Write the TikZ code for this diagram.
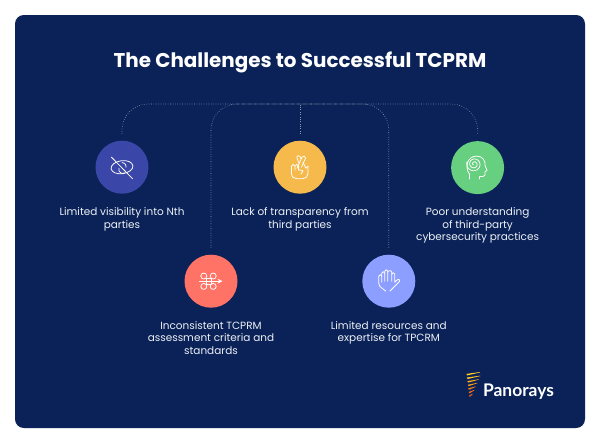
\documentclass[tikz,border=0pt]{standalone}
\usepackage{fontspec}
\setmainfont{Poppins}
\newfontfamily\logofont{Lato}
\usepackage{xcolor}
\definecolor{navy}{HTML}{0A2257}
\definecolor{indigo}{HTML}{3B47A8}
\definecolor{amber}{HTML}{F5BA4B}
\definecolor{leaf}{HTML}{66CF80}
\definecolor{coral}{HTML}{FF7366}
\definecolor{periwinkle}{HTML}{8C9EFF}
\definecolor{linkgray}{HTML}{8E9BB8}
\definecolor{softwhite}{HTML}{EDF0F6}
\tikzset{
  badge/.style={circle,minimum size=1.325cm,inner sep=0pt,outer sep=0.17cm},
  caption/.style={text=softwhite,align=center,font=\fontsize{7.45pt}{8.9pt}\selectfont,inner sep=0pt,anchor=north},
  link/.style={linkgray,line width=0.45pt,dash pattern=on 0.45pt off 1.25pt,rounded corners=0.65cm},
  glyph/.style={white,line width=0.55pt,line cap=round,line join=round,x=0.025cm,y=-0.025cm},
}
\begin{document}
\begin{tikzpicture}
\useasboundingbox (0cm,0cm) rectangle (15cm,-11.075cm);
\fill[white] (0cm,0cm) rectangle (15cm,-11.075cm);
\fill[navy,rounded corners=0.22cm] (0.375cm,-0.375cm) rectangle (14.625cm,-10.7cm);
\node[white,font=\fontsize{14.15pt}{18pt}\selectfont\bfseries,inner sep=0pt] (title) at (7.5cm,-1.56cm) {The Challenges to Successful TCPRM};
\coordinate (rail) at (7.5cm,-2.6cm);
% circles
\node[badge,fill=indigo] (blind) at (3.05cm,-4.18cm) {};
\node[badge,fill=amber] (fingers) at (7.5cm,-4.18cm) {};
\node[badge,fill=leaf] (mind) at (11.94cm,-4.19cm) {};
\node[badge,fill=coral] (command) at (5.275cm,-7.03cm) {};
\node[badge,fill=periwinkle] (palm) at (9.72cm,-7.03cm) {};
% dotted links
\draw[link] (blind.north) |- (rail) -| (mind.north);
\draw[link] (command.north) |- (rail) -| (palm.north);
\draw[link] (fingers.north) -- (rail);
% texts
\node[caption] (blindtext) at (3.05cm,-5.19cm) {Limited visibility into Nth\\parties};
\node[caption] (fingerstext) at (7.5cm,-5.19cm) {Lack of transparency from\\third parties};
\node[caption] (mindtext) at (11.94cm,-5.19cm) {Poor understanding\\of third-party\\cybersecurity practices};
\node[caption] (commandtext) at (5.275cm,-8.03cm) {Inconsistent TCPRM\\assessment criteria and\\standards};
\node[caption] (palmtext) at (9.72cm,-8.03cm) {Limited resources and\\expertise for TPCRM};
% eye
\begin{scope}[shift={(blind.center)},glyph]
\draw[rotate=8] (0,0) ellipse (11 and 6.5);
\draw (-3,1) arc (200:60:4);
\draw (4,0) arc (10:-90:4);
\draw (-10.5,-10) -- (10.5,11.5);
\end{scope}
% crossed fingers
\begin{scope}[shift={(fingers.center)},glyph]
\draw (-3,1) -- (2,-10) .. controls (3,-12.5) and (6,-11) .. (5.5,-9) -- (1.5,0);
\draw (-1,-4) -- (-3,-9) .. controls (-4,-11.5) and (-0.5,-12.5) .. (0.5,-10) -- (1,-8.5);
\draw (3,-5) -- (6,1) -- (8,-1);
\draw (-8.5,2) -- (-8.5,-1) .. controls (-8.5,-3.5) and (-5,-3.5) .. (-5,-1) -- (-5,3);
\draw (-5,-1) .. controls (-5,-3.5) and (-1.5,-3.5) .. (-1.5,-1) -- (-1.5,3);
\draw (-8.5,2) -- (-8.5,6) .. controls (-8.5,10) and (-6,11.5) .. (-3,11.5) -- (3,11.5) .. controls (6,11.5) and (8,9) .. (8,6) -- (8,-1);
\draw (-1.5,2.5) -- (3,3.5) -- (1,7);
\end{scope}
% head with spiral
\begin{scope}[shift={(mind.center)},glyph]
\draw (-8,11.5) -- (-8,6.5) .. controls (-13,1) and (-11,-11.5) .. (-1,-11.5) .. controls (5,-11.5) and (8,-7) .. (7.5,-2) -- (9.5,3) -- (7.5,4) -- (7.5,7.5) .. controls (7,9.5) and (4,9) .. (2,9) -- (2,11.5);
\draw plot[domain=0:800,samples=80,smooth] ({-3.5+(1+\x/800*6.5)*cos(\x+120)},{-3.5+(1+\x/800*6.5)*sin(\x+120)});
\end{scope}
% command key
\begin{scope}[shift={(command.center)},glyph]
\draw[-stealth] (-11.5,0) -- (11.5,0);
\draw (-5,-3) -- (0,-3) (-5,3) -- (0,3) (-5,-3) -- (-5,3) (0,-3) -- (0,3);
\draw (-7.2,-5.2) circle (3) (2.2,-5.2) circle (3) (-7.2,5.2) circle (3) (2.2,5.2) circle (3);
\end{scope}
% raised hand
\begin{scope}[shift={(palm.center)},glyph]
\draw (-3,10) .. controls (-6,7) and (-10,6) .. (-10,2) -- (-10,-5) .. controls (-10,-7) and (-7,-7) .. (-7,-5) -- (-7,1);
\draw (-7,-5) -- (-7,-8) .. controls (-7,-10) and (-4,-10) .. (-4,-8) -- (-4,0);
\draw (-4,-8) -- (-4,-10) .. controls (-4,-12) and (-1,-12) .. (-1,-10) -- (-1,0);
\draw (-1,-9) .. controls (-1,-11) and (3,-11) .. (3,-9) -- (3,0);
\draw (3,-7) .. controls (3,-9) and (6,-9) .. (6,-7) -- (6,1) -- (8,-1) .. controls (10,-3) and (12,-1) .. (10,1) -- (1,10);
\end{scope}
% logo
\foreach \n/\c/\len in {0/FFD21F/13,1/FFC21A/13,2/FBAA18/11,3/F79515/9,4/F27F14/7,5/EC6A12/5,6/E55A10/3}{
  \definecolor{bar}{HTML}{\c}
  \fill[bar,x=0.025cm,y=-0.025cm] (466.5+\n*0.45,374+\n*3.6) -- ++(\len,-1.8) -- ++(0.8,0.3) -- ++(-\len,3) -- cycle;
}
\node[white,font=\logofont\fontsize{12.4pt}{15pt}\selectfont\bfseries,inner sep=0pt,anchor=west] (brand) at (12.07cm,-9.8cm) {Panorays};
\end{tikzpicture}
\end{document}
